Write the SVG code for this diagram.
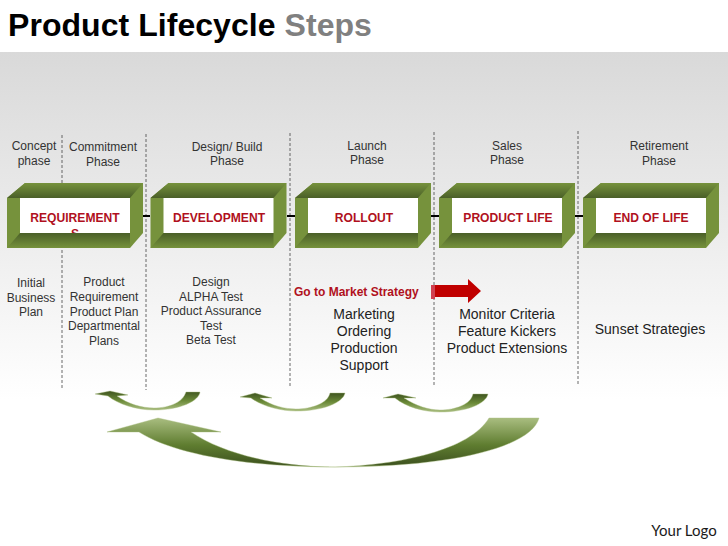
<svg xmlns="http://www.w3.org/2000/svg" xmlns:xlink="http://www.w3.org/1999/xlink" width="728" height="546" viewBox="0 0 728 546">
<style>
text{font-family:"Liberation Sans",Arial,sans-serif;text-anchor:middle}
.t{font-size:12px;fill:#333}
.m{font-size:14px;fill:#222}
.b{font-size:12.1px;font-weight:700;fill:#b01020}
.d{stroke:#444;stroke-width:.8;stroke-dasharray:3 2;fill:none}
.c{stroke:#000;stroke-width:2;fill:none}
</style>
<defs>
<linearGradient id="bg" x1="0" y1="0" x2="0" y2="1"><stop offset="0" stop-color="#d9d9d9"/><stop offset="1" stop-color="#fff"/></linearGradient>
<linearGradient id="top" x1="0" y1="0" x2="0" y2="1"><stop offset="0" stop-color="#76923c"/><stop offset="1" stop-color="#4a5f28"/></linearGradient>
<linearGradient id="bot" x1="0" y1="0" x2="0" y2="1"><stop offset="0" stop-color="#4a5f28"/><stop offset="1" stop-color="#76923c"/></linearGradient>
<linearGradient id="ar" x1="0" y1="0" x2="0" y2="1"><stop offset="0" stop-color="#a9bd80"/><stop offset=".55" stop-color="#5f7d30"/><stop offset=".95" stop-color="#3f5420"/><stop offset="1" stop-color="#8aa35a"/></linearGradient>
<linearGradient id="sm" x1="0" y1="0" x2="0" y2="1"><stop offset="0" stop-color="#3f5420"/><stop offset=".5" stop-color="#6b8a38"/><stop offset="1" stop-color="#a9bd80"/></linearGradient>
<g id="box">
<path d="M0 15 18 0H136V50L123 65H0Z" fill="#76923c"/>
<path d="M0 15 18 0H136L123 15H13Z" fill="url(#top)"/>
<rect x="13" y="15" width="110" height="35" fill="#fff"/>
</g>
<path id="band" d="M13 50H123V65H0Z" fill="url(#bot)"/>
</defs>
<rect width="728" height="546" fill="#fff"/>
<rect y="52" width="728" height="348" fill="url(#bg)"/>
<g id="title"><text x="8" y="36" style="text-anchor:start;font-size:32px;font-weight:700;letter-spacing:.05px"><tspan fill="#000">Product Lifecycle </tspan><tspan fill="#808080">Steps</tspan></text></g>
<g id="connectors">
<path class="d" d="M62 135V390M146 134V390M290 133V386M434 132V386M578 131V386"/>
<path class="c" d="M143 216H150M287 216H295M431 216H439M575 216H583"/>
</g>
<g id="requirements"><use xlink:href="#box" href="#box" x="7" y="183"/><text class="b" x="75" y="222">REQUIREMENT</text><text class="b" x="75" y="238">S</text><use xlink:href="#band" href="#band" x="7" y="183"/></g>
<g id="development"><use xlink:href="#box" href="#box" x="150.5" y="183"/><use xlink:href="#band" href="#band" x="150.5" y="183"/><text class="b" x="219" y="222">DEVELOPMENT</text></g>
<g id="rollout"><use xlink:href="#box" href="#box" x="295" y="183"/><use xlink:href="#band" href="#band" x="295" y="183"/><text class="b" x="364" y="222">ROLLOUT</text></g>
<g id="product-life"><use xlink:href="#box" href="#box" x="439" y="183"/><use xlink:href="#band" href="#band" x="439" y="183"/><text class="b" x="508" y="222">PRODUCT LIFE</text></g>
<g id="end-of-life"><use xlink:href="#box" href="#box" x="583" y="183"/><use xlink:href="#band" href="#band" x="583" y="183"/><text class="b" x="651" y="222">END OF LIFE</text></g>
<g id="phases">
<text class="t" x="34" y="150">Concept</text><text class="t" x="34" y="165">phase</text>
<text class="t" x="103" y="151">Commitment</text><text class="t" x="103" y="166">Phase</text>
<text class="t" x="227" y="151">Design/ Build</text><text class="t" x="227" y="165">Phase</text>
<text class="t" x="367" y="150">Launch</text><text class="t" x="367" y="164">Phase</text>
<text class="t" x="507" y="150">Sales</text><text class="t" x="507" y="164">Phase</text>
<text class="t" x="659" y="150">Retirement</text><text class="t" x="659" y="165">Phase</text>
</g>
<g id="details">
<text class="t" x="31" y="287">Initial</text><text class="t" x="31" y="302">Business</text><text class="t" x="31" y="316">Plan</text>
<text class="t" x="104" y="286">Product</text><text class="t" x="104" y="301">Requirement</text><text class="t" x="104" y="316">Product Plan</text><text class="t" x="104" y="330">Departmental</text><text class="t" x="104" y="345">Plans</text>
<text class="t" x="211" y="286">Design</text><text class="t" x="211" y="301">ALPHA Test</text><text class="t" x="211" y="315">Product Assurance</text><text class="t" x="211" y="330">Test</text><text class="t" x="211" y="344">Beta Test</text>
<text style="text-anchor:start;font-size:12px;font-weight:700;fill:#b01020" x="294" y="296">Go to Market Strategy</text>
<text class="m" x="364" y="319">Marketing</text><text class="m" x="364" y="336">Ordering</text><text class="m" x="364" y="353">Production</text><text class="m" x="364" y="370">Support</text>
<text class="m" x="507" y="319">Monitor Criteria</text><text class="m" x="507" y="336">Feature Kickers</text><text class="m" x="507" y="353">Product Extensions</text>
<text class="m" x="650" y="334">Sunset Strategies</text>
<text style="font-family:Lato,'Liberation Sans',sans-serif;font-size:15px;fill:#1a1a1a" x="684" y="536">Your Logo</text>
</g>
<g id="red-arrow"><path d="M431 285H435V299H431Z" fill="#d04050"/><path d="M435 285H468V279L481 291 468 303V297H435Z" fill="#c00000"/></g>
<g id="loop-arrows" stroke="#a9bd80" stroke-width=".4">
<path fill="url(#sm)" d="M95 394 110 391 128 395 117 396C128 404 142 408 154 408 170 408 183 402 186 392H200C199 401 180 410 154 410 136 410 118 404 108 396Z"/>
<path fill="url(#sm)" d="M240 397 255 393 272 398 260 398C272 406 285 409 296 409 312 409 328 403 330 393H345C343 403 322 411 296 411 280 411 262 406 251 398Z"/>
<path fill="url(#sm)" d="M383 398 398 394 416 398 404 398C416 406 429 410 440 410 456 410 471 404 473 394H488C486 404 466 412 440 412 424 412 406 407 395 398Z"/>
<path fill="url(#ar)" d="M107 432 158 418 221 432 191 432C225 455 280 467 335 467 400 465 470 450 489 418H539C532 445 460 467 335 467 250 467 175 455 139 432Z"/>
</g>
</svg>
